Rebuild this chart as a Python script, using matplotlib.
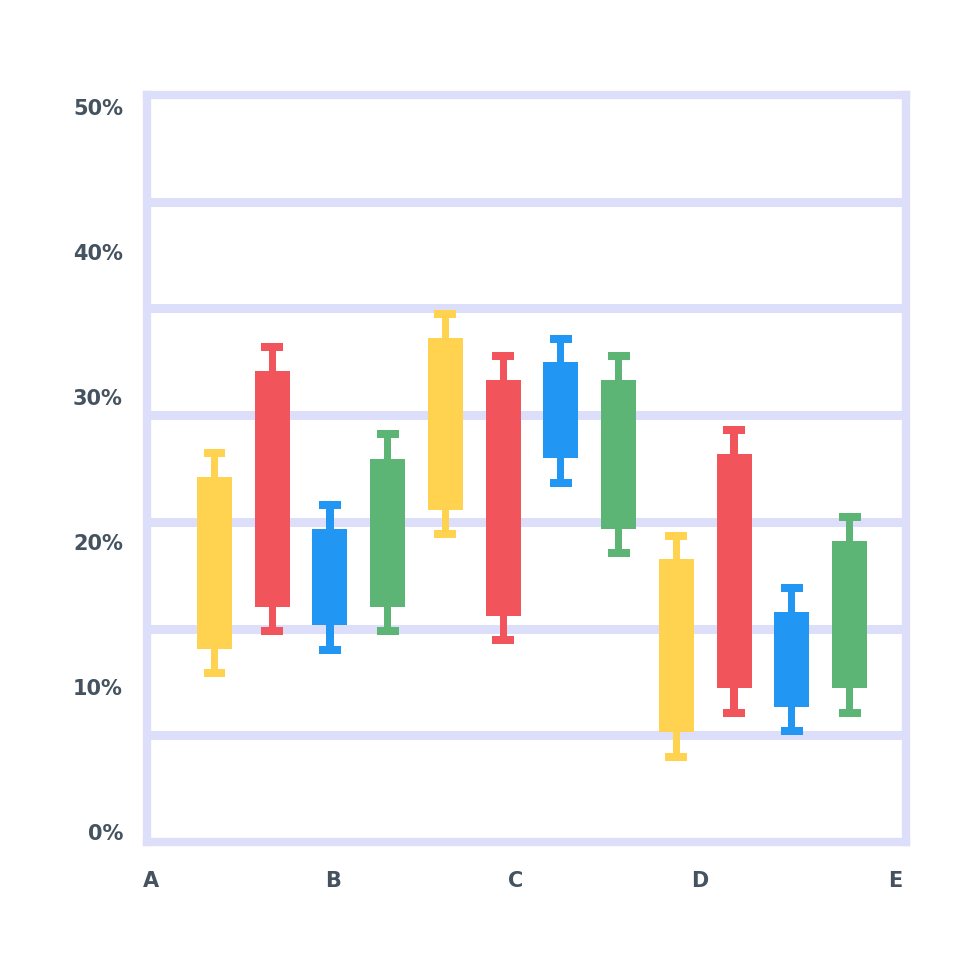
# candlestick style chart, icon look

import matplotlib.pyplot as plt
import numpy as np

colors = ["#FFD24F", "#F2545B", "#2196F3", "#5DB575"] * 3
highs = [26.4, 33.7, 22.8, 27.7, 36.0, 33.1, 34.3, 33.1, 20.7, 28.0, 17.1, 22.0]
tops = [24.5, 31.8, 20.9, 25.7, 34.1, 31.2, 32.4, 31.2, 18.8, 26.1, 15.2, 20.1]
bottoms = [12.6, 15.5, 14.3, 15.5, 22.2, 14.9, 25.8, 20.9, 6.9, 9.9, 8.6, 9.9]
lows = [10.7, 13.6, 12.3, 13.6, 20.3, 13.0, 23.8, 19.0, 4.9, 7.9, 6.7, 7.9]
y_ticks = [0, 10, 20, 30, 40, 50]
y_labels = ["0%", "10%", "20%", "30%", "40%", "50%"]
x_labels = ["A", "B", "C", "D", "E"]

grid_c = "#DCDEFA"
text_c = "#44535F"

fig = plt.figure(figsize=(9.8, 9.8), dpi=100)
ax = fig.add_axes([146.5 / 980, 1 - 842 / 980, (906 - 146.5) / 980, (842 - 95) / 980])

ymin, ymax = -0.69, 50.83
ax.set_ylim(ymin, ymax)
ax.set_xlim(-1.178, 11.978)

# inner horizontal lines (7 equal bands)
for g in np.linspace(ymin, ymax, 8)[1:-1]:
    ax.axhline(g, color=grid_c, lw=6.5, zorder=1)

x = np.arange(len(highs))
highs = np.array(highs)
lows = np.array(lows)
tops = np.array(tops)
bottoms = np.array(bottoms)
cap = 0.55

# stems
ax.bar(x, highs - lows, bottom=lows, width=0.125, color=colors, zorder=2)
# caps
ax.bar(x, cap, bottom=highs - cap, width=0.38, color=colors, zorder=2)
ax.bar(x, cap, bottom=lows, width=0.38, color=colors, zorder=2)
# bodies
ax.bar(x, tops - bottoms, bottom=bottoms, width=0.606, color=colors, zorder=3)

for s in ax.spines.values():
    s.set_color(grid_c)
    s.set_linewidth(6)

ax.set_yticks(y_ticks)
ax.set_yticklabels(y_labels)
ax.set_xticks([-1.10, 2.05, 5.22, 8.41, 11.79])
ax.set_xticklabels(x_labels)
ax.tick_params(length=0, labelsize=15, labelcolor=text_c)
ax.tick_params(axis="y", pad=17)
ax.tick_params(axis="x", pad=21)
for t in ax.get_xticklabels() + ax.get_yticklabels():
    t.set_fontweight("bold")

fig.savefig("out.png", dpi=100, facecolor="white")
